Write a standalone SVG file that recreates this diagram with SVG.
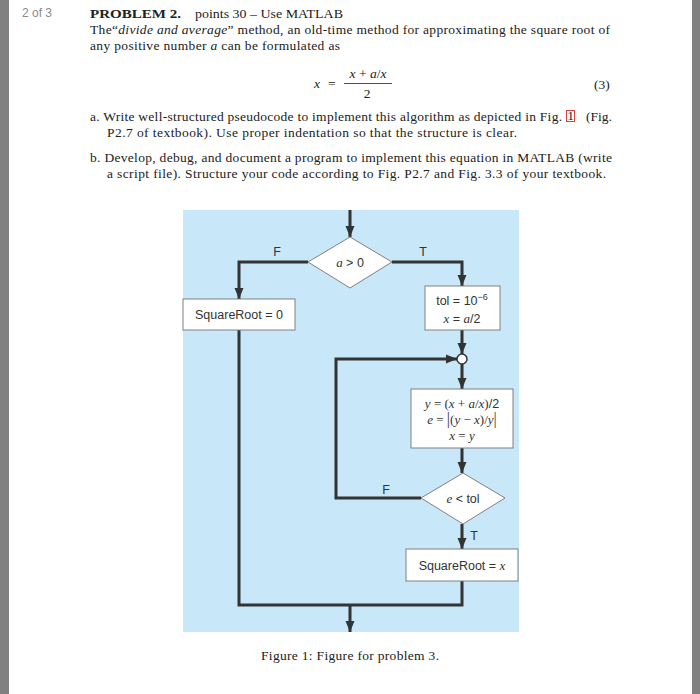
<svg xmlns="http://www.w3.org/2000/svg" width="700" height="694" viewBox="0 0 700 694">
<style>
.pg{font-family:"Liberation Serif","DejaVu Serif",serif;font-size:13.5px;fill:#222}
.it{font-style:italic}
.bd{font-weight:bold}
.sn{font-family:"Liberation Sans",Arial,sans-serif;font-size:12.5px;fill:#333}
.mi{font-family:"Liberation Serif",serif;font-style:italic;font-size:13px;fill:#333}
.mr{font-family:"Liberation Serif",serif;font-size:13px;fill:#333}
.box{fill:#fff;stroke:#808080;stroke-width:1}
.ln{fill:none;stroke:#333;stroke-width:3}
</style>
<defs>
<marker id="ah" markerUnits="userSpaceOnUse" markerWidth="10" markerHeight="11" refX="11" refY="5" orient="auto">
<path d="M0,0.5 L11,5 L0,9.5 Z" fill="#333"/>
</marker>
</defs>
<rect x="0" y="0" width="700" height="694" fill="#fff"/>
<rect x="0" y="0" width="9" height="694" fill="#808080"/>
<rect x="692" y="0" width="8" height="694" fill="#808080"/>
<text x="22" y="17" font-family="Liberation Sans,Arial,sans-serif" font-size="12" fill="#8a8a8a">2 of 3</text>

<g id="page-text">
<text class="pg bd" x="90" y="18" textLength="91" lengthAdjust="spacingAndGlyphs">PROBLEM 2.</text>
<text class="pg" x="195" y="18" textLength="148" lengthAdjust="spacingAndGlyphs">points 30 – Use MATLAB</text>
<text class="pg" x="90" y="34" textLength="520" lengthAdjust="spacing">The“<tspan class="it">divide and average</tspan>” method, an old-time method for approximating the square root of</text>
<text class="pg" x="90" y="50" textLength="250" lengthAdjust="spacing">any positive number <tspan class="it">a</tspan> can be formulated as</text>
<text class="pg it" x="314" y="88">x</text>
<text class="pg" x="328" y="88">=</text>
<text class="pg" x="368" y="78" text-anchor="middle"><tspan class="it">x</tspan> + <tspan class="it">a</tspan>/<tspan class="it">x</tspan></text>
<line x1="344" y1="83.5" x2="392" y2="83.5" stroke="#222" stroke-width="0.8"/>
<text class="pg" x="367" y="98" text-anchor="middle">2</text>
<text class="pg" x="594" y="89">(3)</text>
<text class="pg" x="90" y="121" textLength="472" lengthAdjust="spacing">a. Write well-structured pseudocode to implement this algorithm as depicted in Fig.</text>
<rect x="566.5" y="110.5" width="8" height="11" fill="none" stroke="#e04040" stroke-width="1"/>
<text class="pg" x="570.5" y="120" text-anchor="middle" font-size="11">1</text>
<text class="pg" x="612" y="121" text-anchor="end">(Fig.</text>
<text class="pg" x="107" y="137" textLength="410" lengthAdjust="spacing">P2.7 of textbook). Use proper indentation so that the structure is clear.</text>
<text class="pg" x="90" y="162" textLength="522" lengthAdjust="spacing">b. Develop, debug, and document a program to implement this equation in MATLAB (write</text>
<text class="pg" x="107" y="178" textLength="499" lengthAdjust="spacing">a script file). Structure your code according to Fig. P2.7 and Fig. 3.3 of your textbook.</text>
<text class="pg" x="350" y="660" text-anchor="middle" textLength="178" lengthAdjust="spacing">Figure 1: Figure for problem 3.</text>
</g>

<rect id="figure-bg" x="183" y="210" width="336" height="422" fill="#c8e8f9"/>

<g id="connectors">
<path class="ln" d="M350,210 V237" marker-end="url(#ah)"/>
<path class="ln" d="M308,262 H239 V299" marker-end="url(#ah)"/>
<path class="ln" d="M392,262 H462 V286" marker-end="url(#ah)"/>
<path class="ln" d="M462,330 V354" marker-end="url(#ah)"/>
<path class="ln" d="M421,498 H336 V359 H457" marker-end="url(#ah)"/>
<path class="ln" d="M462,364 V389" marker-end="url(#ah)"/>
<path class="ln" d="M462,448 V473" marker-end="url(#ah)"/>
<path class="ln" d="M462,524 V549" marker-end="url(#ah)"/>
<path class="ln" d="M239,330 V605 H462 V581"/>
<path class="ln" d="M350,605 V632" marker-end="url(#ah)"/>
<text class="sn" x="277" y="256" text-anchor="middle">F</text>
<text class="sn" x="423" y="256" text-anchor="middle">T</text>
<text class="sn" x="386" y="494" text-anchor="middle">F</text>
<text class="sn" x="474" y="540" text-anchor="middle">T</text>
</g>

<g id="dec-a">
<polygon class="box" points="350,237 392,262 350,288 308,262"/>
<text class="mi" x="350" y="267" text-anchor="middle">a<tspan class="sn" font-style="normal"> &gt; 0</tspan></text>
</g>
<g id="sq0">
<rect class="box" x="183" y="299" width="112" height="31"/>
<text class="sn" x="239" y="319" text-anchor="middle">SquareRoot = 0</text>
</g>
<g id="init">
<rect class="box" x="425" y="286" width="75" height="44"/>
<text class="sn" x="462" y="305" text-anchor="middle">tol = 10<tspan font-size="9" dy="-5">−6</tspan></text>
<text class="mi" x="462" y="323" text-anchor="middle">x<tspan class="sn" font-style="normal"> = </tspan>a<tspan class="sn" font-style="normal">/2</tspan></text>
</g>
<g id="join">
<circle cx="462" cy="359" r="5" fill="#fff" stroke="#333" stroke-width="1.5"/>
</g>
<g id="update">
<rect class="box" x="411" y="389" width="102" height="59"/>
<text class="mi" x="462" y="408" text-anchor="middle">y<tspan font-style="normal"> = (</tspan>x<tspan font-style="normal"> + </tspan>a<tspan font-style="normal">/</tspan>x<tspan font-style="normal">)</tspan><tspan class="sn" font-style="normal">/2</tspan></text>
<text class="mi" x="462" y="424" text-anchor="middle">e<tspan font-style="normal"> = </tspan><tspan font-style="normal" font-size="16">|</tspan><tspan font-style="normal">(</tspan>y<tspan font-style="normal"> − </tspan>x<tspan font-style="normal">)/</tspan>y<tspan font-style="normal" font-size="16">|</tspan></text>
<text class="mi" x="462" y="440" text-anchor="middle">x<tspan font-style="normal"> = </tspan>y</text>
</g>
<g id="dec-e">
<polygon class="box" points="463,473 505,498 463,524 421,498"/>
<text class="mi" x="463" y="503" text-anchor="middle">e<tspan class="sn" font-style="normal"> &lt; tol</tspan></text>
</g>
<g id="sqx">
<rect class="box" x="406" y="549" width="112" height="32"/>
<text class="sn" x="462" y="570" text-anchor="middle">SquareRoot = <tspan class="mi">x</tspan></text>
</g>
</svg>
